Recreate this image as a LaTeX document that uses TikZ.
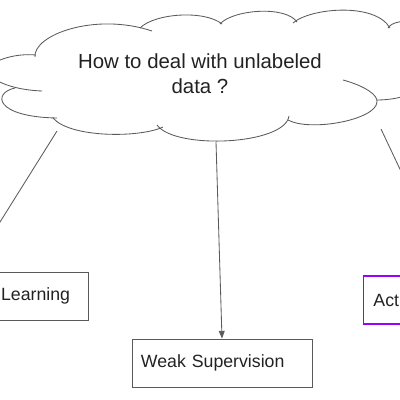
\documentclass[tikz,border=0pt]{standalone}
\usepackage{fontspec}
\setmainfont{Liberation Sans}
\usetikzlibrary{arrows.meta,positioning}
\definecolor{edgegray}{RGB}{90,90,90}
\definecolor{txtgray}{RGB}{34,34,34}
\definecolor{actpurple}{RGB}{153,0,255}
\begin{document}
\begin{tikzpicture}[x=0.025cm,y=-0.025cm,
  puff/.style={draw=edgegray,line width=0.6pt},
  conn/.style={draw=edgegray,line width=0.6pt},
  box/.style={draw=edgegray,line width=0.6pt,minimum height=1.2cm,inner ysep=0pt,
    font=\fontsize{12.6}{15}\selectfont,text=txtgray},
  qtext/.style={font=\fontsize{14.5}{17.8}\selectfont,text=txtgray,align=center}]
\useasboundingbox (0,0) rectangle (400,400);
\clip (0,0) rectangle (400,400);
% cloud
\foreach \a/\b/\c/\d in {{-20,75}/{-10,60}/{15,53}/{36,55},
    {35,57}/{33,35}/{95,12}/{152,31},
    {140,28}/{155,13}/{205,10}/{222,24},
    {220,24}/{232,10}/{285,5}/{297,22},
    {293,23}/{310,8}/{375,2}/{390,28},
    {388,28}/{392,22}/{402,20}/{420,22},
    {343,80}/{365,86}/{378,95}/{377,102},
    {377,102}/{376,120}/{310,132}/{288,120},
    {377,100}/{385,100}/{395,99}/{405,96},
    {289,116}/{285,145}/{175,150}/{157,125},
    {163,127}/{140,138}/{70,138}/{53,118},
    {15,88}/{-8,93}/{-5,117}/{57,118},
    {-15,70}/{-8,82}/{15,90}/{42,91}}
  \draw[puff] (\a) .. controls (\b) and (\c) .. (\d);
\node[qtext] (question) at (200,74) {How to deal with unlabeled\\data ?};
\coordinate (qleft) at (57,131);
\coordinate (qmid) at (216,142);
\coordinate (qright) at (381,129);
% the three answers
\node[box,minimum width=5.95cm,text width=5.05cm,inner xsep=0.45cm,align=right] (learn) at (-31,296) {Learning};
\node[box,minimum width=4.5cm,text width=4.05cm,inner xsep=0.225cm,align=left] (weak) at (222,363) {Weak Supervision};
\node[box,draw=actpurple,line width=1.2pt,minimum width=4.325cm,text width=3.825cm,inner xsep=0.25cm,align=left] (active) at (450,300) {Act};
\draw[conn] (qleft) -- (learn.north);
\draw[conn,-{Triangle[width=4.2pt,length=5.5pt]}] (qmid) -- (weak.north);
\draw[conn] (qright) -- (active.north);
\end{tikzpicture}
\end{document}
